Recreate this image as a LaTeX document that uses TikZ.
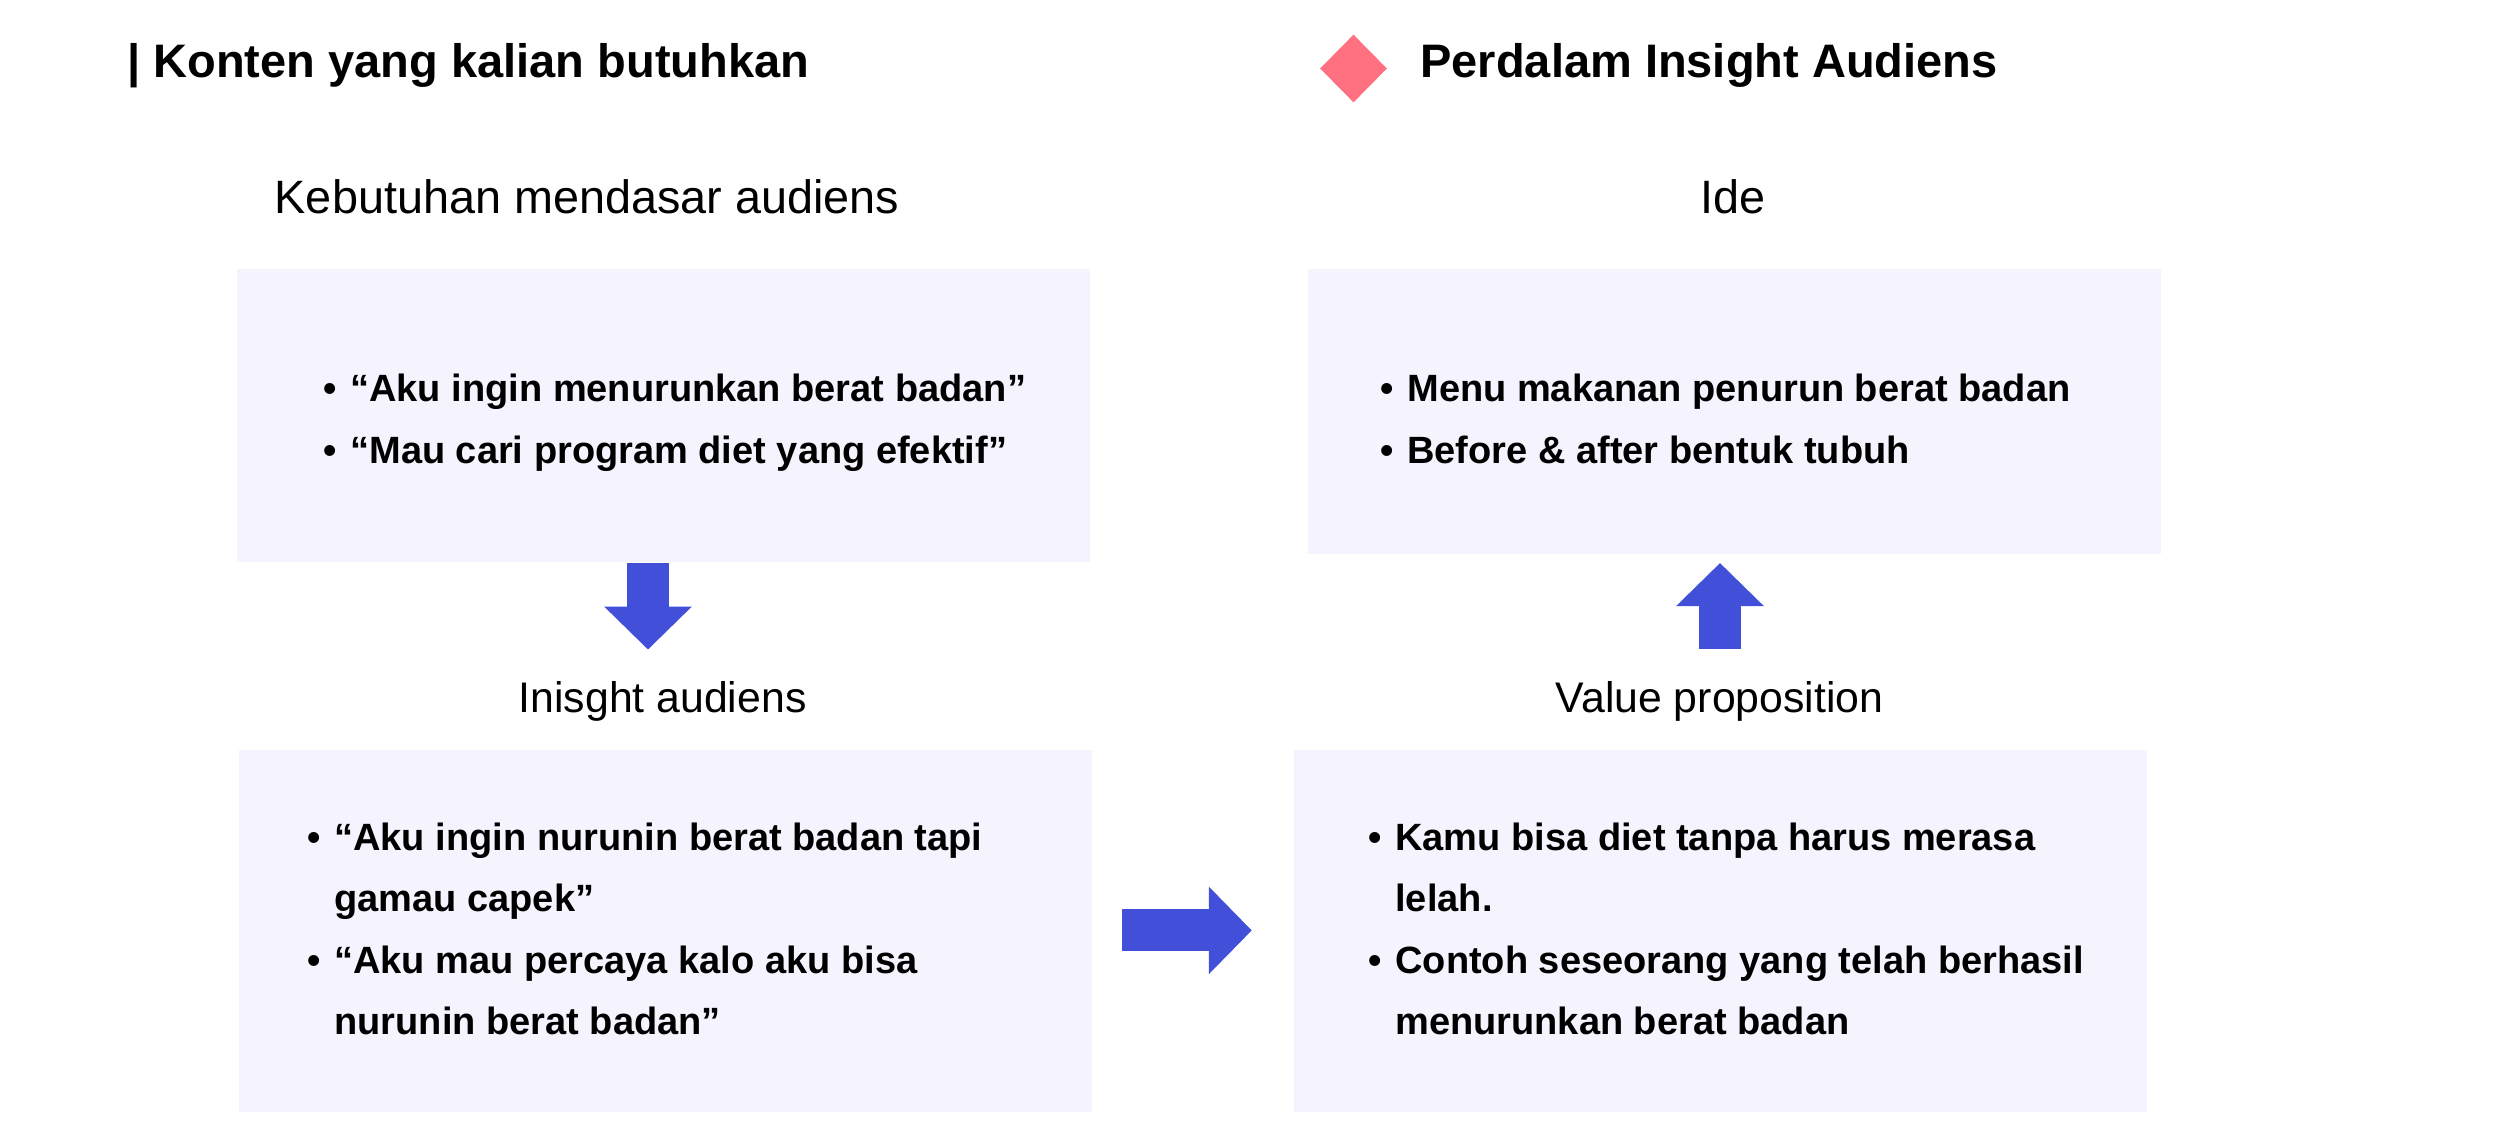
\documentclass[tikz,border=0pt]{standalone}
\usepackage{fontspec}
\setmainfont{Liberation Sans}
\usepackage{xcolor}
\usetikzlibrary{arrows.meta,shapes.geometric}

\definecolor{boxfill}{HTML}{F4F3FE}
\definecolor{arrowblue}{HTML}{414FD9}
\definecolor{markpink}{HTML}{FF7080}

\newcommand{\itm}{\makebox[13.5pt][l]{\textbullet}}
\newcommand{\cnt}{\hspace*{13.5pt}}

\begin{document}
\begin{tikzpicture}[x=0.5pt,y=0.5pt,yscale=-1,xscale=1,
        panel/.style={fill=boxfill,draw=none,inner sep=0pt,minimum width=426.5pt},
        heading/.style={anchor=base west,inner sep=0pt,font=\fontsize{23.5}{27}\selectfont\bfseries},
        caption/.style={anchor=base,inner sep=0pt,font=\fontsize{21.4}{25}\selectfont},
        bigcaption/.style={caption,font=\fontsize{23.4}{27}\selectfont},
        bullets/.style={anchor=base west,inner sep=0pt,align=left,font=\fontsize{19}{30.75}\selectfont\bfseries},
        blockarrow/.style={color=arrowblue,line width=21pt,-{Triangle[length=21.5pt,width=42.5pt]}}]
        \useasboundingbox (0,0) rectangle (2500,1145);

        %Shape: Boxes
        \node [panel,minimum height=146.2pt] (need) at (663.3,415.6) {};
        \node [panel,minimum height=142.5pt] (idea) at (1734,411.5) {};
        \node [panel,minimum height=181.2pt] (insight) at (665.7,930.7) {};
        \node [panel,minimum height=181.2pt] (value) at (1720.1,930.7) {};

        %Shape: Diamond
        \node [diamond,fill=markpink,inner sep=0pt,minimum width=33.5pt,minimum height=34pt] (mark) at (1353.5,68.5) {};

        % Text Node
        \node [heading] (lefttitle) at (127,77.5) {| Konten yang kalian butuhkan};
        % Text Node
        \node [heading] (righttitle) at (1420,77.5) {Perdalam Insight Audiens};
        % Text Node
        \node [bigcaption] (needlabel) at (587,213.3) {Kebutuhan mendasar audiens};
        % Text Node
        \node [bigcaption] (idealabel) at (1733,213.3) {Ide};
        % Text Node
        \node [caption] (insightlabel) at (662.6,712.7) {Inisght audiens};
        % Text Node
        \node [caption] (valuelabel) at (1719.6,712.7) {Value proposition};

        % Text Node (anchored at the baseline of the last line)
        \node [bullets] (needtext) at (323,463) {\itm “Aku ingin menurunkan berat badan”\\\itm “Mau cari program diet yang efektif”};
        % Text Node
        \node [bullets] (ideatext) at (1380,463) {\itm Menu makanan penurun berat badan\\\itm Before \& after bentuk tubuh};
        % Text Node
        \node [bullets] (insighttext) at (307,1034.6) {\itm “Aku ingin nurunin berat badan tapi\\\cnt gamau capek”\\\itm “Aku mau percaya kalo aku bisa\\\cnt nurunin berat badan”};
        % Text Node
        \node [bullets] (valuetext) at (1368,1034.6) {\itm Kamu bisa diet tanpa harus merasa\\\cnt lelah.\\\itm Contoh seseorang yang telah berhasil\\\cnt menurunkan berat badan};

        %Arrows
        \coordinate (downtop) at (648,563);
        \coordinate (downtip) at (648,649.6);
        \coordinate (uptail) at (1720,648.8);
        \coordinate (uptip) at (1720,563);
        \coordinate (righttail) at (1122,930.4);
        \coordinate (righttip) at (1251.8,930.4);
        \draw [blockarrow] (downtop) -- (downtip);
        \draw [blockarrow] (uptail) -- (uptip);
        \draw [blockarrow] (righttail) -- (righttip);

\end{tikzpicture}
\end{document}
